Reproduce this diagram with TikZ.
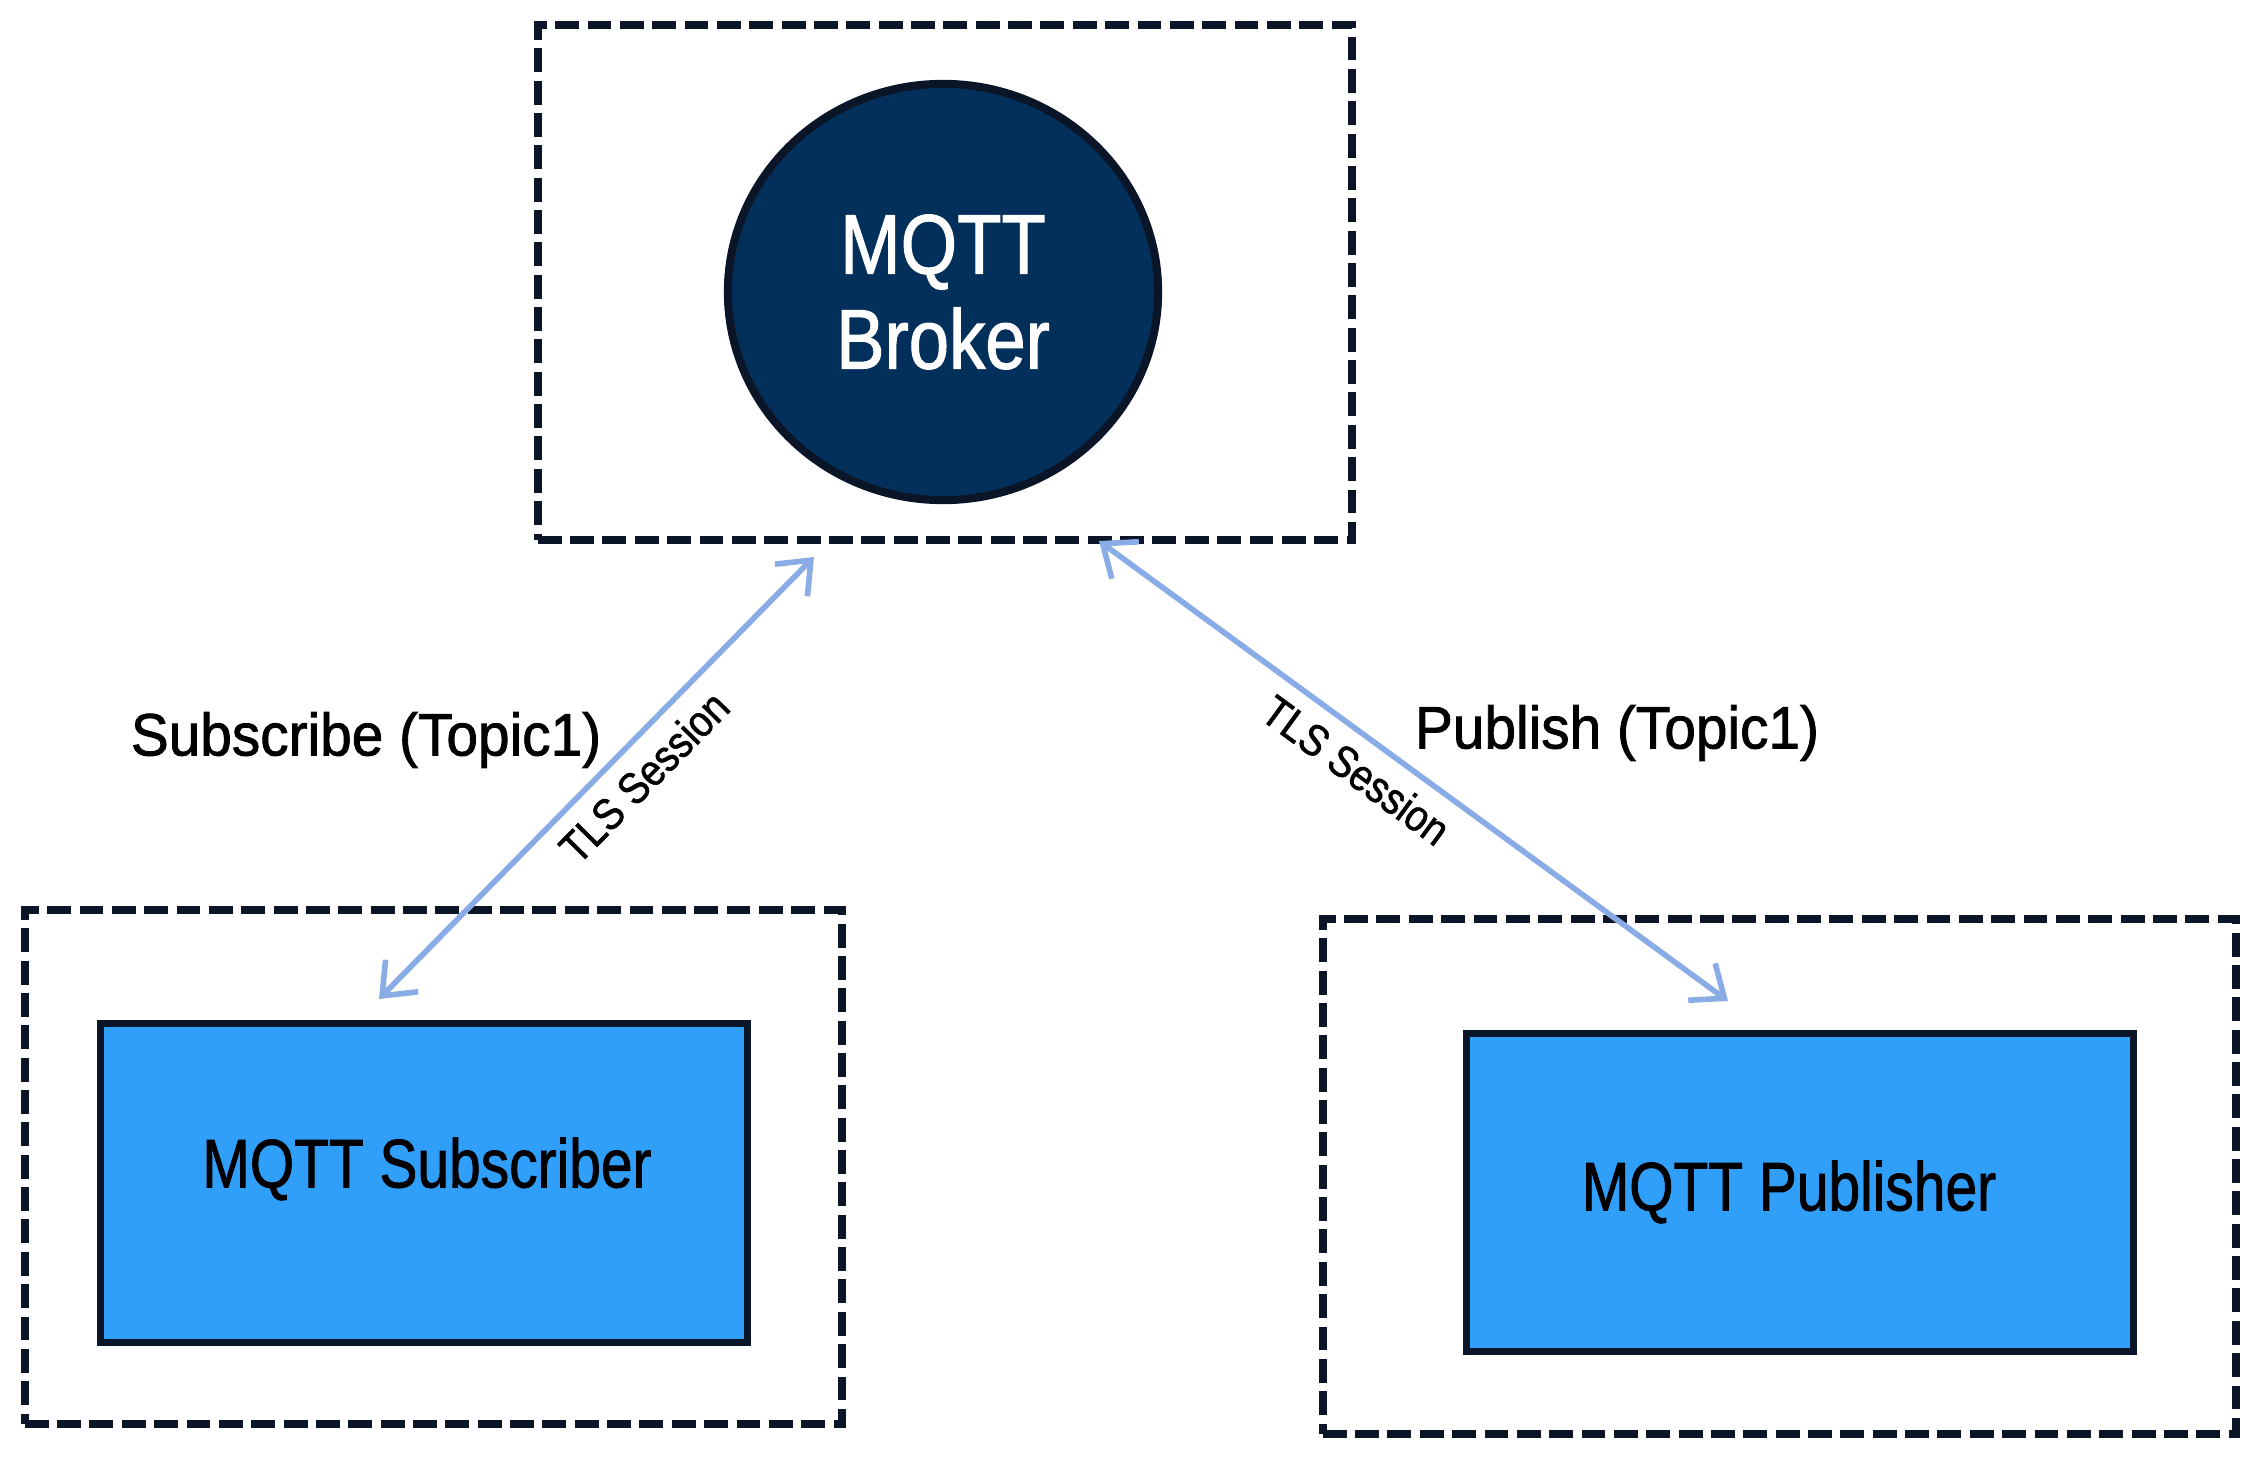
\documentclass[tikz,border=0pt]{standalone}
\usepackage{fontspec}
\setmainfont{Liberation Sans}
\newfontfamily\embfont{Liberation Sans}[FakeBold=1.4]
\usetikzlibrary{arrows.meta,shapes.geometric}
\newcommand{\hsq}[2][0.84]{\scalebox{#1}[1]{\embfont #2}}
\definecolor{navy}{HTML}{0B1528}
\definecolor{brokerfill}{HTML}{03305A}
\definecolor{boxfill}{HTML}{2F9FFA}
\definecolor{linkblue}{HTML}{8AACE6}
\begin{document}
\begin{tikzpicture}[x=0.01cm,y=-0.01cm,
  group/.style={draw=navy, line width=2.3pt, dash pattern=on 6.8pt off 2.4pt, inner sep=0pt},
  client/.style={draw=navy, line width=2pt, fill=boxfill, inner sep=0pt},
  broker/.style={ellipse, draw=navy, line width=2.3pt, fill=brokerfill, inner sep=0pt,
    minimum width=4.30cm, minimum height=4.16cm, text=white, align=center,
    font=\fontsize{24}{29}\selectfont},
  link/.style={draw=linkblue, line width=1.6pt,
    {Straight Barb[length=8pt,width=13pt]}-{Straight Barb[length=8pt,width=13pt]}},
  tls/.style={sloped, below=3pt, font=\fontsize{12.5}{15}\selectfont, inner sep=1pt},
  topic/.style={font=\fontsize{17}{20}\selectfont, inner sep=0pt},
  ctext/.style={font=\fontsize{19.5}{23}\selectfont, inner sep=0pt}]
\useasboundingbox (0,0) rectangle (2258,1458);

% group boxes
\node[group, minimum width=8.14cm, minimum height=5.15cm] (gtop) at (945,282.5) {};
\node[group, minimum width=8.17cm, minimum height=5.14cm] (gleft) at (433.5,1167) {};
\node[group, minimum width=9.13cm, minimum height=5.15cm] (gright) at (1779.5,1176.5) {};

% broker
\node[broker] (broker) at (943,292) {\hsq[0.86]{MQTT}\\[-2pt]\hsq[0.86]{Broker}};

% clients
\node[client, minimum width=6.46cm, minimum height=3.18cm] (sub) at (424,1183) {};
\node[ctext] (subtext) at (427,1169) {\hsq[0.83]{MQTT Subscriber}};
\node[client, minimum width=6.66cm, minimum height=3.17cm] (pub) at (1800,1192.5) {};
\node[ctext] (pubtext) at (1789,1192) {\hsq[0.83]{MQTT Publisher}};

% topic labels
\node[topic] (sublabel) at (366,740) {\hsq[0.95]{Subscribe (Topic1)}};
\node[topic] (publabel) at (1617,733) {\hsq[0.95]{Publish (Topic1)}};

% links
\coordinate (subend) at (379,999);
\coordinate (brokerL) at (814,557);
\coordinate (pubend) at (1728,1001);
\coordinate (brokerR) at (1099,541);
\draw[link] (subend) -- node[tls, pos=0.555] {\hsq[0.88]{TLS Session}} (brokerL);
\draw[link] (brokerR) -- node[tls, pos=0.44] {\hsq[0.88]{TLS Session}} (pubend);
\end{tikzpicture}
\end{document}
